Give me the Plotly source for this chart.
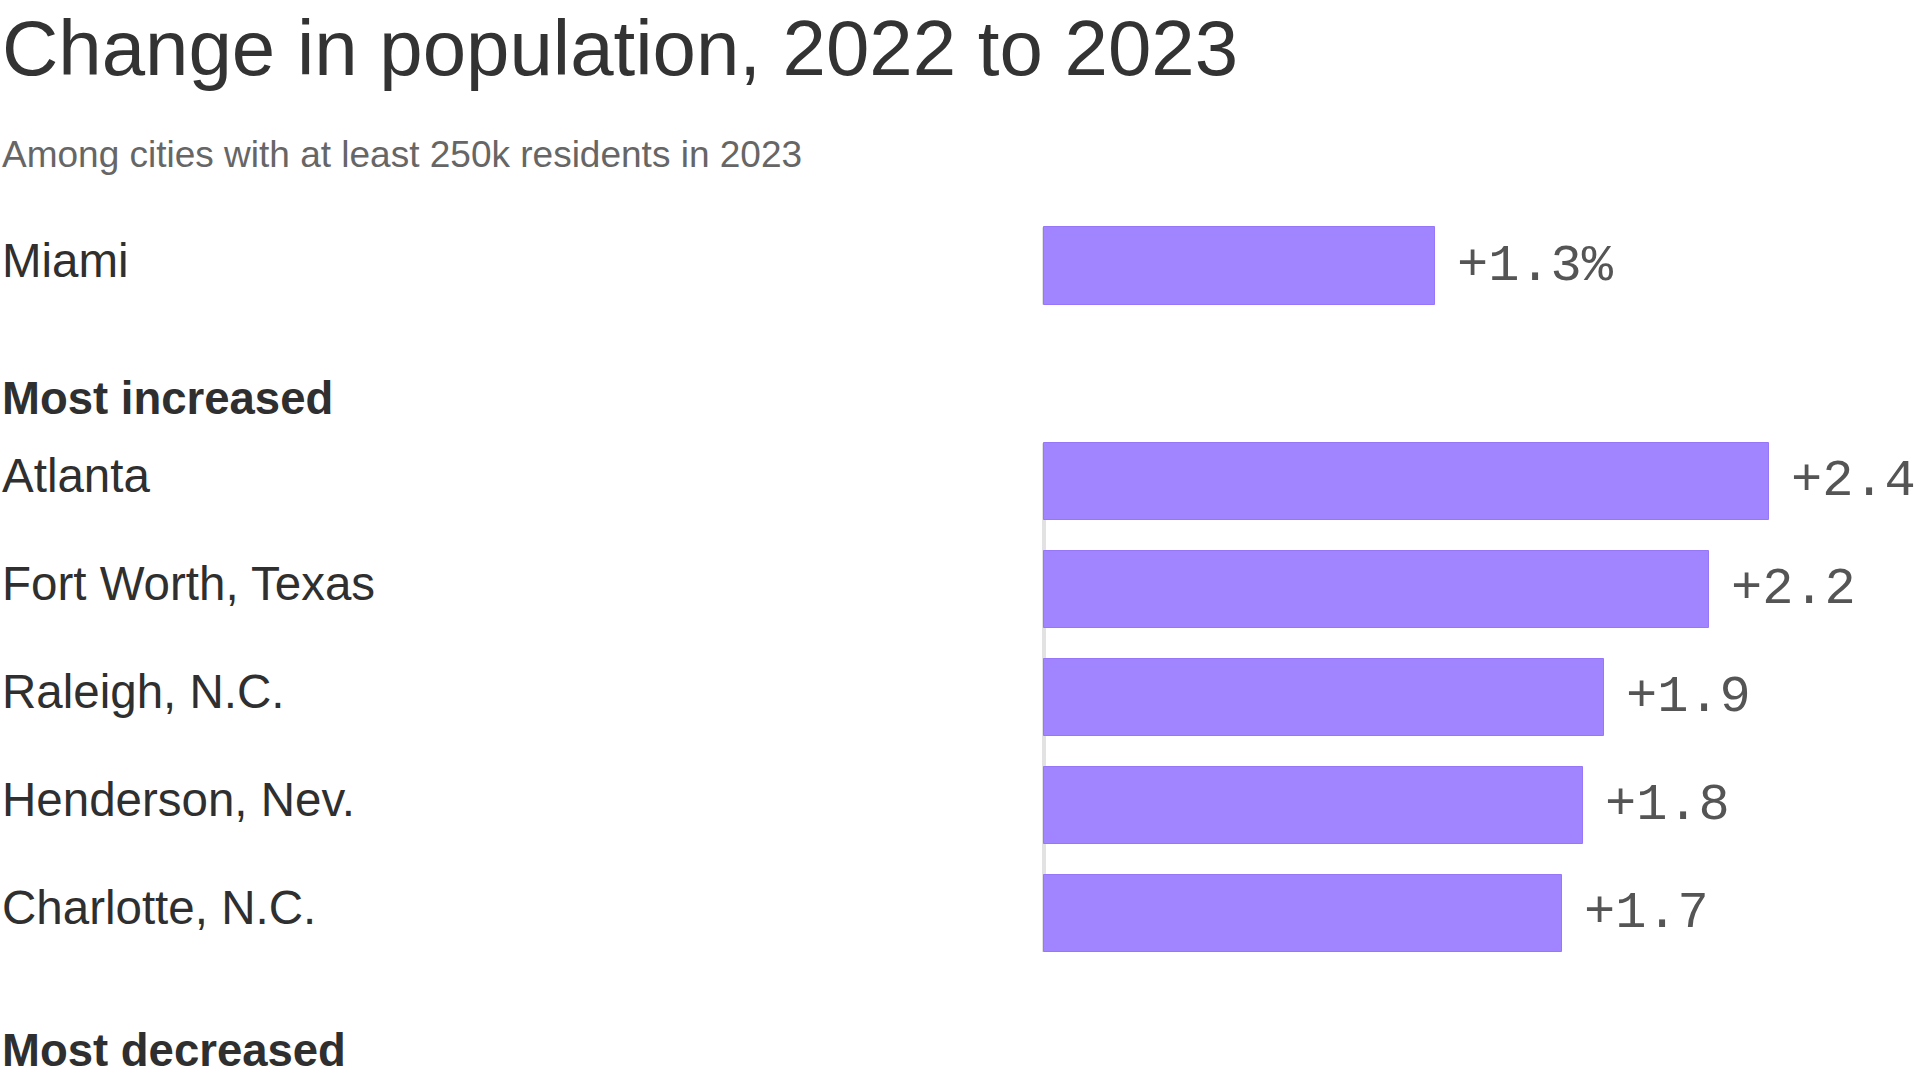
import plotly.graph_objects as go

# ---- data ----
cities = ["Miami", "Atlanta", "Fort Worth, Texas", "Raleigh, N.C.", "Henderson, Nev.", "Charlotte, N.C."]
change_pct = [1.30, 2.41, 2.21, 1.86, 1.79, 1.72]
value_labels = ["+1.3%", "+2.4", "+2.2", "+1.9", "+1.8", "+1.7"]
row_pos = [0, 2, 3, 4, 5, 6]
group_headers = ["Most increased", "Most decreased"]
header_pos = [1.23, 7.27]

title = "Change in population, 2022 to 2023"
subtitle = "Among cities with at least 250k residents in 2023"

BAR_W = 0.715
BAR_COLOR = "#a184ff"

fig = go.Figure()
fig.add_trace(go.Bar(
    x=change_pct, y=row_pos, orientation="h", width=BAR_W,
    marker=dict(color=BAR_COLOR, line=dict(color="#9677fb", width=1)),
    hoverinfo="skip", showlegend=False,
))

annotations = []
# city labels
for c, p in zip(cities, row_pos):
    annotations.append(dict(
        text=c, x=0.0, xref="paper", y=p, yref="y", xanchor="left", yanchor="middle",
        yshift=6, showarrow=False,
        font=dict(family="Liberation Sans", size=47.5, color="#2f2f2f"),
    ))
# value labels
for v, lab, p in zip(change_pct, value_labels, row_pos):
    annotations.append(dict(
        text=lab, x=v, y=p, xref="x", yref="y", xanchor="left", yanchor="middle",
        xshift=20, showarrow=False,
        font=dict(family="Liberation Mono", size=52, color="#555555"),
    ))
# group headers
for h, p in zip(group_headers, header_pos):
    annotations.append(dict(
        text="<b>" + h + "</b>", x=0.0, xref="paper", y=p, yref="y",
        xanchor="left", yanchor="middle", showarrow=False,
        font=dict(family="Liberation Sans", size=45.5, color="#2f2f2f"),
    ))
# title & subtitle
annotations.append(dict(
    text=title, x=0.0, xref="paper", y=1 - 48 / 1080, yref="paper",
    xanchor="left", yanchor="middle", showarrow=False,
    font=dict(family="Liberation Sans", size=78, color="#333333"),
))
annotations.append(dict(
    text=subtitle, x=0.0, xref="paper", y=1 - 154 / 1080, yref="paper",
    xanchor="left", yanchor="middle", showarrow=False,
    font=dict(family="Liberation Sans", size=37, color="#666666"),
))

# baseline segments
shapes = [
    dict(type="line", x0=0, x1=0, y0=row_pos[0] - BAR_W / 2, y1=row_pos[0] + BAR_W / 2,
         xref="x", yref="y", line=dict(color="#e2e2e2", width=4), layer="below"),
    dict(type="line", x0=0, x1=0, y0=row_pos[1] - BAR_W / 2, y1=row_pos[-1] + BAR_W / 2,
         xref="x", yref="y", line=dict(color="#e2e2e2", width=4), layer="below"),
]

fig.update_layout(
    width=1920, height=1080,
    margin=dict(l=0, r=0, t=0, b=0),
    paper_bgcolor="white", plot_bgcolor="white",
    xaxis=dict(range=[-1044 / 301, 876 / 301], visible=False, fixedrange=True),
    yaxis=dict(range=[(1080 - 266) / 107.9, -266 / 107.9], visible=False, fixedrange=True),
    annotations=annotations, shapes=shapes,
    bargap=0,
)

fig.write_html("out.html")
